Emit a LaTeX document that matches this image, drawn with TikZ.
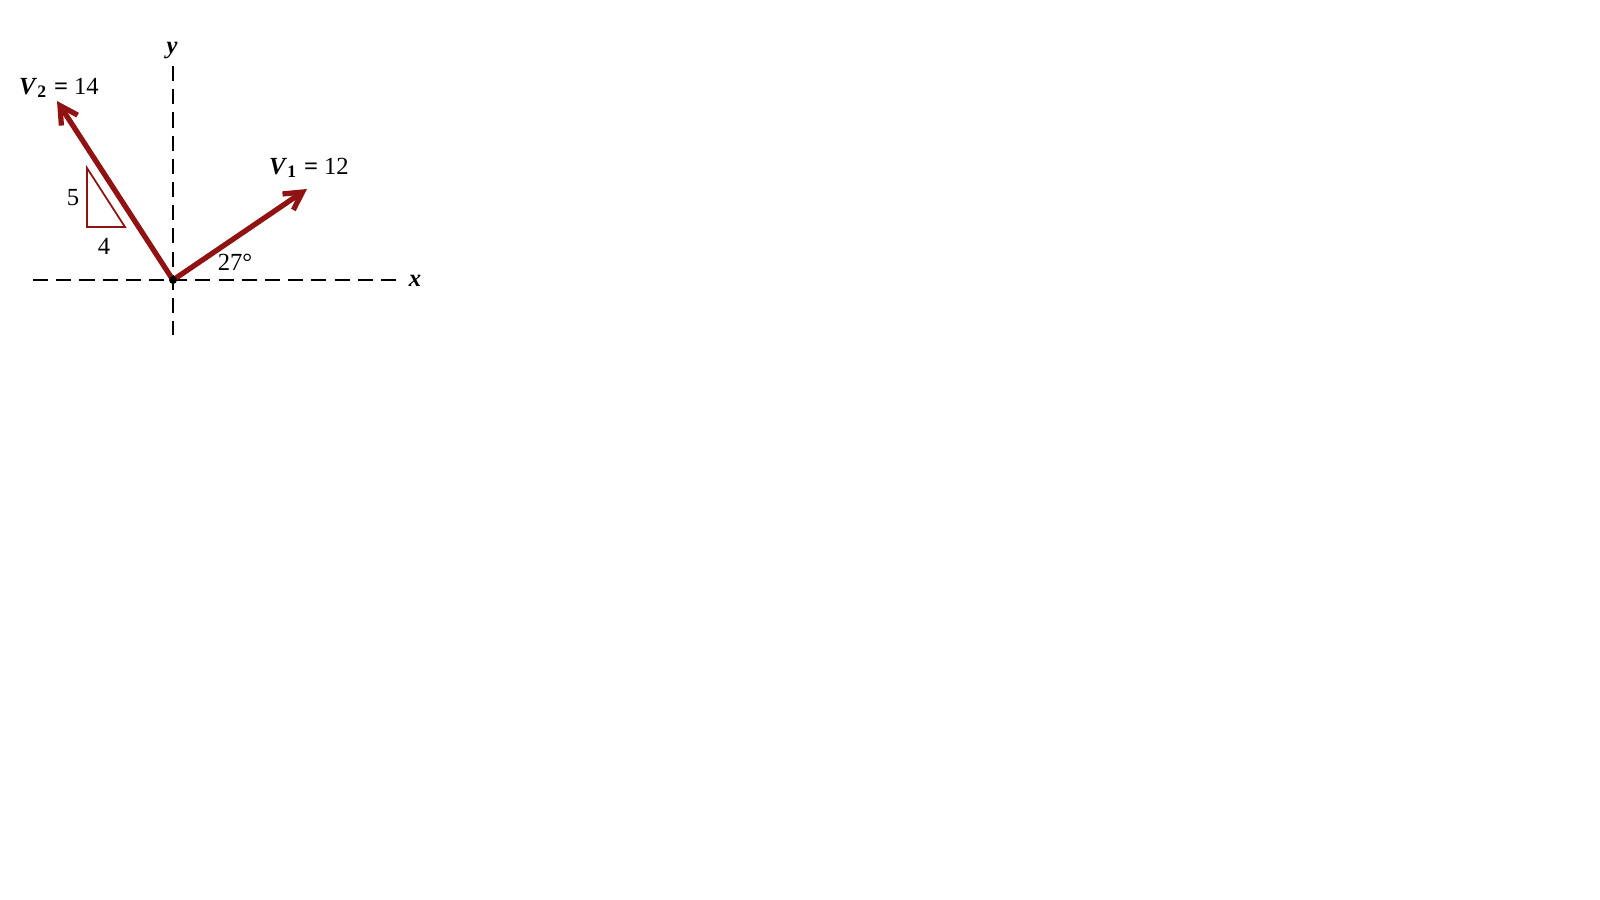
\documentclass[tikz,border=0pt]{standalone}
\usepackage{fontspec}
\setmainfont{Liberation Serif}
\usetikzlibrary{arrows.meta}
\definecolor{vecred}{RGB}{145,18,18}
\tikzset{
  axis_line/.style = {dash pattern=on 4.3pt off 2.3pt, line width=0.6pt, black},
  vec_arrow/.style = {-{Straight Barb[length=5pt,width=5.5pt]}, line width=1.5pt, vecred},
  tri_line/.style = {draw=vecred, line width=0.5pt},
  lbl/.style = {font=\fontsize{7}{8.5}\selectfont, inner sep=0pt},
}

\begin{document}
\begin{tikzpicture}[x=0.1mm,y=-0.1mm]
    \useasboundingbox (0,0) rectangle (1600,900);
    \coordinate (O) at (173,280);
    \coordinate (x_left) at (33,280);
    \coordinate (x_right) at (398,280);
    \coordinate (y_top) at (173,66);
    \coordinate (y_bot) at (173,335);
    \coordinate (V1) at (307,189);
    \coordinate (V2) at (57,101);
    % axes
    \draw [axis_line] (x_left) -- (x_right);
    \draw [axis_line] (y_top) -- (y_bot);
    \node [lbl] (x_lab) at (415,281) {\textbf{\textit{x}}};
    \node [lbl] (y_lab) at (172,51) {\textbf{\textit{y}}};
    % vectors
    \draw [vec_arrow] (O) -- (V1);
    \draw [vec_arrow] (O) -- (V2);
    \fill (O) circle (4);
    \node [lbl] (V2_lab) at (59,88) {\textbf{\textit{V}$_{\mathbf{2}}$ =} 14};
    \node [lbl] (V1_lab) at (309,168) {\textbf{\textit{V}$_{\mathbf{1}}$ =} 12};
    \node [lbl] (ang_lab) at (235,262) {27°};
    % slope triangle
    \coordinate (t_top) at (87,168);
    \coordinate (t_corner) at (87,227);
    \coordinate (t_right) at (125,227);
    \draw [tri_line] (t_top) -- (t_corner) -- (t_right) -- cycle;
    \node [lbl] (five_lab) at (73,198) {5};
    \node [lbl] (four_lab) at (104,246) {4};
\end{tikzpicture}
\end{document}
